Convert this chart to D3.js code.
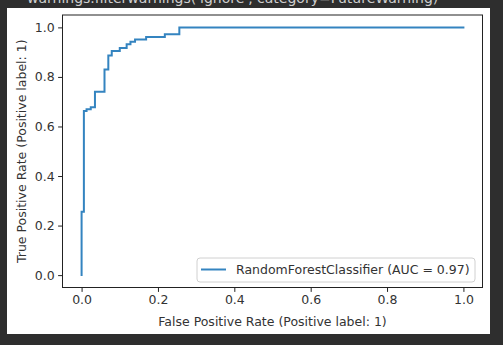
<!DOCTYPE html>
<html>
<head>
<meta charset="utf-8">
<script src="https://cdn.jsdelivr.net/npm/d3@7"></script>
<style>
  html, body { margin: 0; padding: 0; background: #2e2e2e; }
  svg { display: block; }
</style>
</head>
<body>
<svg id="chart" width="503" height="345"></svg>
<script>
// ROC curve corner points (staircase)
const fpr = [0, 0, 0.006, 0.006, 0.013, 0.013, 0.024, 0.024, 0.035, 0.035, 0.060, 0.060, 0.070, 0.070, 0.079, 0.079, 0.100, 0.100, 0.118, 0.118, 0.128, 0.128, 0.140, 0.140, 0.169, 0.169, 0.218, 0.218, 0.256, 0.256, 1.0];
const tpr = [0, 0.256, 0.256, 0.662, 0.662, 0.670, 0.670, 0.678, 0.678, 0.740, 0.740, 0.830, 0.830, 0.887, 0.887, 0.905, 0.905, 0.917, 0.917, 0.932, 0.932, 0.942, 0.942, 0.951, 0.951, 0.961, 0.961, 0.972, 0.972, 1.0, 1.0];
const xTicks = [0.0, 0.2, 0.4, 0.6, 0.8, 1.0];
const yTicks = [0.0, 0.2, 0.4, 0.6, 0.8, 1.0];
const seriesLabel = "RandomForestClassifier (AUC = 0.97)";
const xLabel = "False Positive Rate (Positive label: 1)";
const yLabel = "True Positive Rate (Positive label: 1)";
const topText = "warnings.filterwarnings('ignore', category=FutureWarning)";

const svg = d3.select("#chart");
const font = "'DejaVu Sans', sans-serif";
const textColor = "#333";

// top cut-off text on dark background
svg.append("text").attr("x", 27).attr("y", 3)
  .attr("font-family", font).attr("font-size", 14).attr("fill", "#cfcfcf")
  .text(topText);

// white figure
svg.append("rect").attr("x", 7).attr("y", 8).attr("width", 483).attr("height", 326).attr("fill", "#fff");

const L = 62.5, R = 482.5, T = 15, B = 287.5;
const x = d3.scaleLinear().domain([-0.05, 1.05]).range([L, R]);
const y = d3.scaleLinear().domain([-0.05, 1.05]).range([B, T]);

// curve
const pts = fpr.map((f, i) => [f, tpr[i]]);
svg.append("path").datum(pts)
  .attr("d", d3.line().x(d => x(d[0])).y(d => y(d[1])))
  .attr("fill", "none").attr("stroke", "#3484c0").attr("stroke-width", 2)
  .attr("stroke-linejoin", "miter").attr("stroke-linecap", "square");

// axes
const xAxis = d3.axisBottom(x).tickValues(xTicks).tickFormat(d3.format(".1f")).tickSize(4.4).tickPadding(3.5);
const yAxis = d3.axisLeft(y).tickValues(yTicks).tickFormat(d3.format(".1f")).tickSize(4.4).tickPadding(3.5);
const gx = svg.append("g").attr("transform", `translate(0,${B})`).call(xAxis);
const gy = svg.append("g").attr("transform", `translate(${L},0)`).call(yAxis);
[gx, gy].forEach(g => {
  g.select(".domain").remove();
  g.selectAll(".tick line").attr("stroke", "#222").attr("stroke-width", 1);
  g.selectAll(".tick text").attr("font-family", font).attr("font-size", 12.5).attr("fill", textColor);
});

// frame
svg.append("rect").attr("x", L).attr("y", T).attr("width", R - L).attr("height", B - T)
  .attr("fill", "none").attr("stroke", "#222").attr("stroke-width", 1);

// axis labels
svg.append("text").attr("x", (L + R) / 2).attr("y", 326).attr("text-anchor", "middle")
  .attr("font-family", font).attr("font-size", 12.5).attr("fill", textColor).text(xLabel);
svg.append("text").attr("transform", `translate(26,${(T + B) / 2}) rotate(-90)`).attr("text-anchor", "middle")
  .attr("font-family", font).attr("font-size", 12.5).attr("fill", textColor).text(yLabel);

// legend
const lg = svg.append("g");
lg.append("rect").attr("x", 197).attr("y", 258).attr("width", 278).attr("height", 24).attr("rx", 3)
  .attr("fill", "#fff").attr("fill-opacity", 0.8).attr("stroke", "#d0d0d0").attr("stroke-width", 1);
lg.append("line").attr("x1", 201).attr("x2", 226).attr("y1", 269.5).attr("y2", 269.5)
  .attr("stroke", "#3484c0").attr("stroke-width", 2);
lg.append("text").attr("x", 236).attr("y", 274).attr("font-family", font).attr("font-size", 12.5)
  .attr("fill", textColor).text(seriesLabel);
</script>
</body>
</html>
